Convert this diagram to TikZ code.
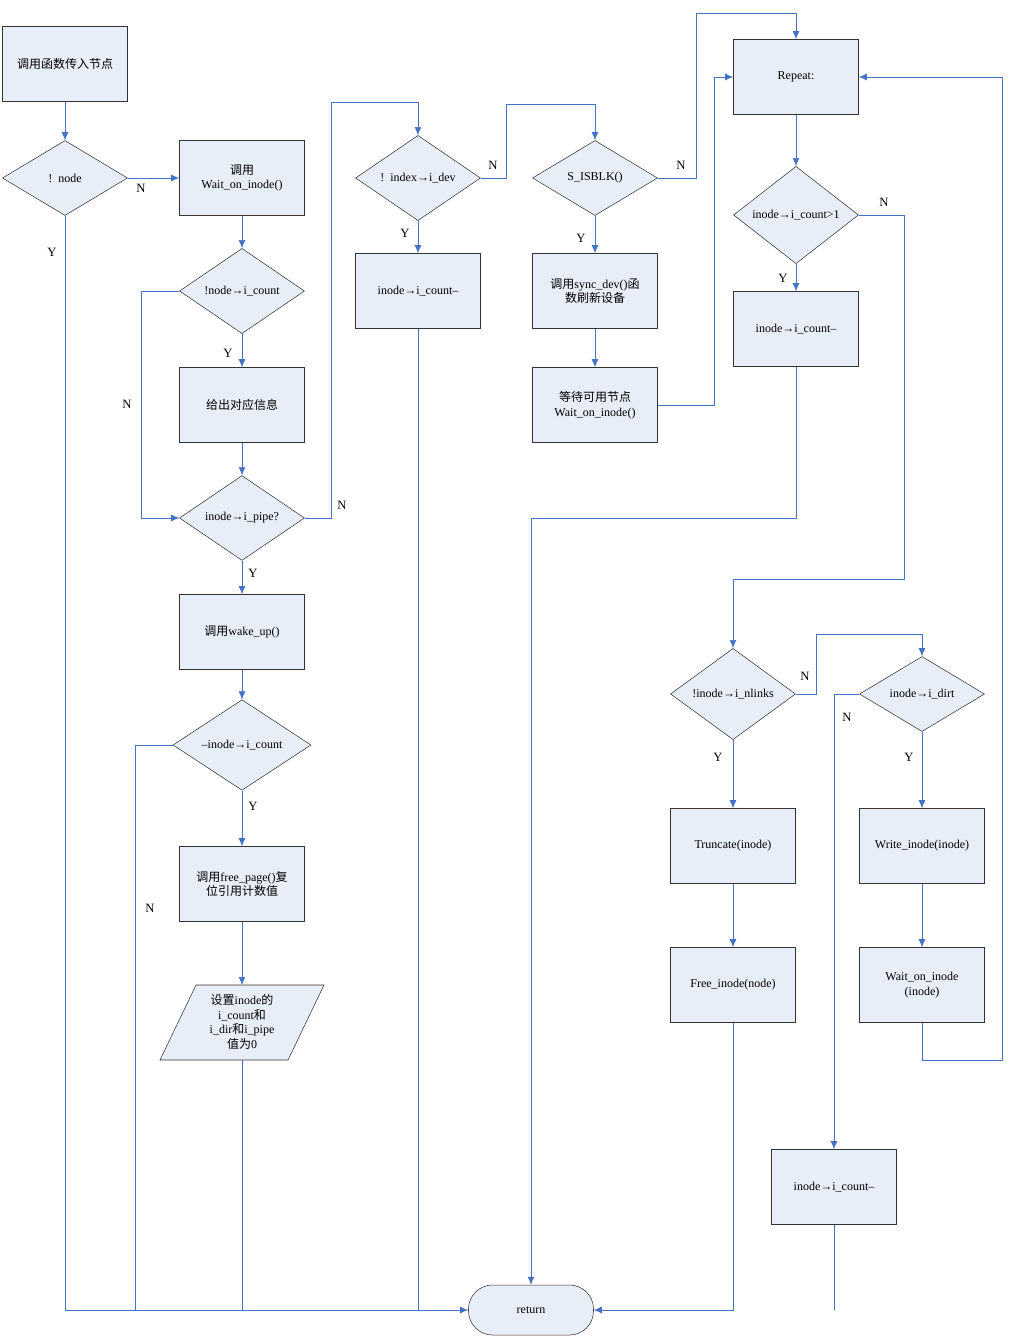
\documentclass[tikz,border=0pt]{standalone}
\usepackage{fontspec}
\setmainfont{Liberation Serif}
\newfontfamily\cjk{Noto Sans CJK SC}
\usetikzlibrary{shapes.geometric,arrows.meta}
\definecolor{fillc}{HTML}{E8EEF8}
\definecolor{linec}{HTML}{4472C4}
\begin{document}
\begin{tikzpicture}[x=0.75pt,y=-0.75pt,
  every node/.style={font=\fontsize{9}{11}\selectfont},
  box/.style={draw=black!80,fill=fillc,minimum width=93.75pt,minimum height=56.25pt,align=center,inner sep=1pt},
  dia/.style={draw=black!80,fill=fillc,diamond,minimum width=93.75pt,minimum height=56.25pt,inner sep=0pt,align=center},
  arr/.style={draw=linec,-{Latex[length=6pt,width=5pt]}},
  ln/.style={draw=linec},
  lab/.style={font=\fontsize{9.5}{11}\selectfont}]
\useasboundingbox (0,0) rectangle (1016,1339);
\node[box] (start) at (65,64) {\cjk 调用函数传入节点};
\node[dia] (d1) at (65,178) {!\ \ node};
\node[box] (r1) at (242,178) {{\cjk 调用}\\Wait\_on\_inode()};
\node[dia] (d2) at (242,291) {!node→i\_count};
\node[box] (r2) at (242,405) {\cjk 给出对应信息};
\node[dia] (d3) at (242,518) {inode→i\_pipe?};
\node[box] (r3) at (242,632) {{\cjk 调用}wake\_up()};
\node[dia,minimum width=103.5pt] (d4) at (242,745) {--inode→i\_count};
\node[box] (r4) at (242,884) {{\cjk 调用}free\_page(){\cjk 复}\\{\cjk 位引用计数值}};
\draw[draw=black!80,fill=fillc] (196,985) -- (324,985) -- (288,1060) -- (160,1060) -- cycle;
\node[align=center] (par) at (242,1022) {{\cjk 设置}inode{\cjk 的}\\i\_count{\cjk 和}\\i\_dir{\cjk 和}i\_pipe\\{\cjk 值为}0};
\node[dia] (d5) at (418,178) {!\ \ index→i\_dev};
\node[box] (r5) at (418,291) {inode→i\_count--};
\node[dia] (d6) at (595,178) {S\_ISBLK()};
\node[box] (r6) at (595,291) {{\cjk 调用}sync\_dev(){\cjk 函}\\{\cjk 数刷新设备}};
\node[box] (r7) at (595,405) {{\cjk 等待可用节点}\\Wait\_on\_inode()};
\node[box] (rep) at (796,77) {Repeat:};
\node[dia] (d7) at (796,215) {inode→i\_count>1};
\node[box] (r8) at (796,329) {inode→i\_count--};
\node[dia] (d8) at (733,694) {!inode→i\_nlinks};
\node[dia] (d9) at (922,694) {inode→i\_dirt};
\node[box] (r9) at (733,846) {Truncate(inode)};
\node[box] (r10) at (733,985) {Free\_inode(node)};
\node[box] (r11) at (922,846) {Write\_inode(inode)};
\node[box] (r12) at (922,985) {Wait\_on\_inode\\(inode)};
\node[box] (r13) at (834,1187) {inode→i\_count--};
\node[draw=black!80,fill=fillc,rounded corners=18pt,minimum width=93.75pt,minimum height=37.5pt] (ret) at (531,1310) {return};
\coordinate (b) at (135,1310);
% connectors
\draw[arr] (start) -- (d1);
\draw[arr] (d1.east) -- (r1.west);
\node[lab] (l1) at (141,188) {N};
\draw[arr] (d1.south) |- (ret.west);
\node[lab] (l2) at (52,252) {Y};
\draw[arr] (r1) -- (d2);
\draw[arr] (d2) -- (r2);
\node[lab] (l3) at (228,353) {Y};
\draw[arr] (d2.west) -- (141,291) -- (141,518) -- (d3.west);
\node[lab] (l4) at (127,404) {N};
\draw[arr] (r2) -- (d3);
\draw[arr] (d3) -- (r3);
\node[lab] (l5) at (253,573) {Y};
\draw[arr] (d3.east) -- (331,518) -- (331,102) -- (418,102) -- (d5.north);
\node[lab] (l6) at (342,505) {N};
\draw[arr] (r3) -- (d4);
\draw[arr] (d4) -- (r4);
\node[lab] (l7) at (253,806) {Y};
\draw[ln] (d4.west) -| (b);
\node[lab] (l8) at (150,908) {N};
\draw[arr] (r4) -- (242,985);
\draw[ln] (242,1060) -- (242,1310);
\draw[arr] (d5.east) -- (506,178) -- (506,104) -- (595,104) -- (d6.north);
\node[lab] (l9) at (493,165) {N};
\draw[arr] (d5) -- (r5);
\node[lab] (l10) at (405,233) {Y};
\draw[ln] (r5.south) -- (418,1310);
\draw[arr] (d6.east) -- (696,178) -- (696,13) -- (796,13) -- (rep.north);
\node[lab] (l11) at (681,165) {N};
\draw[arr] (d6) -- (r6);
\node[lab] (l12) at (581,238) {Y};
\draw[arr] (r6) -- (r7);
\draw[arr] (r7.east) -- (714,405) -- (714,77) -- (rep.west);
\draw[arr] (rep) -- (d7);
\draw[arr] (d7) -- (r8);
\node[lab] (l13) at (783,278) {Y};
\draw[arr] (d7.east) -- (904,215) -- (904,579) -- (733,579) -- (d8.north);
\node[lab] (l14) at (884,202) {N};
\draw[arr] (r8.south) -- (796,518) -- (531,518) -- (ret.north);
\draw[arr] (d8.east) -- (816,694) -- (816,634) -- (922,634) -- (d9.north);
\node[lab] (l15) at (805,676) {N};
\draw[arr] (d8) -- (r9);
\node[lab] (l16) at (718,757) {Y};
\draw[arr] (r9) -- (r10);
\draw[arr] (r10.south) |- (ret.east);
\draw[arr] (d9.west) -- (834,694) -- (r13.north);
\node[lab] (l17) at (847,717) {N};
\draw[arr] (d9) -- (r11);
\node[lab] (l18) at (909,757) {Y};
\draw[arr] (r11) -- (r12);
\draw[arr] (r12.south) -- (922,1060) -- (1002,1060) -- (1002,77) -- (rep.east);
\draw[ln] (r13.south) -- (834,1310);
\end{tikzpicture}
\end{document}
